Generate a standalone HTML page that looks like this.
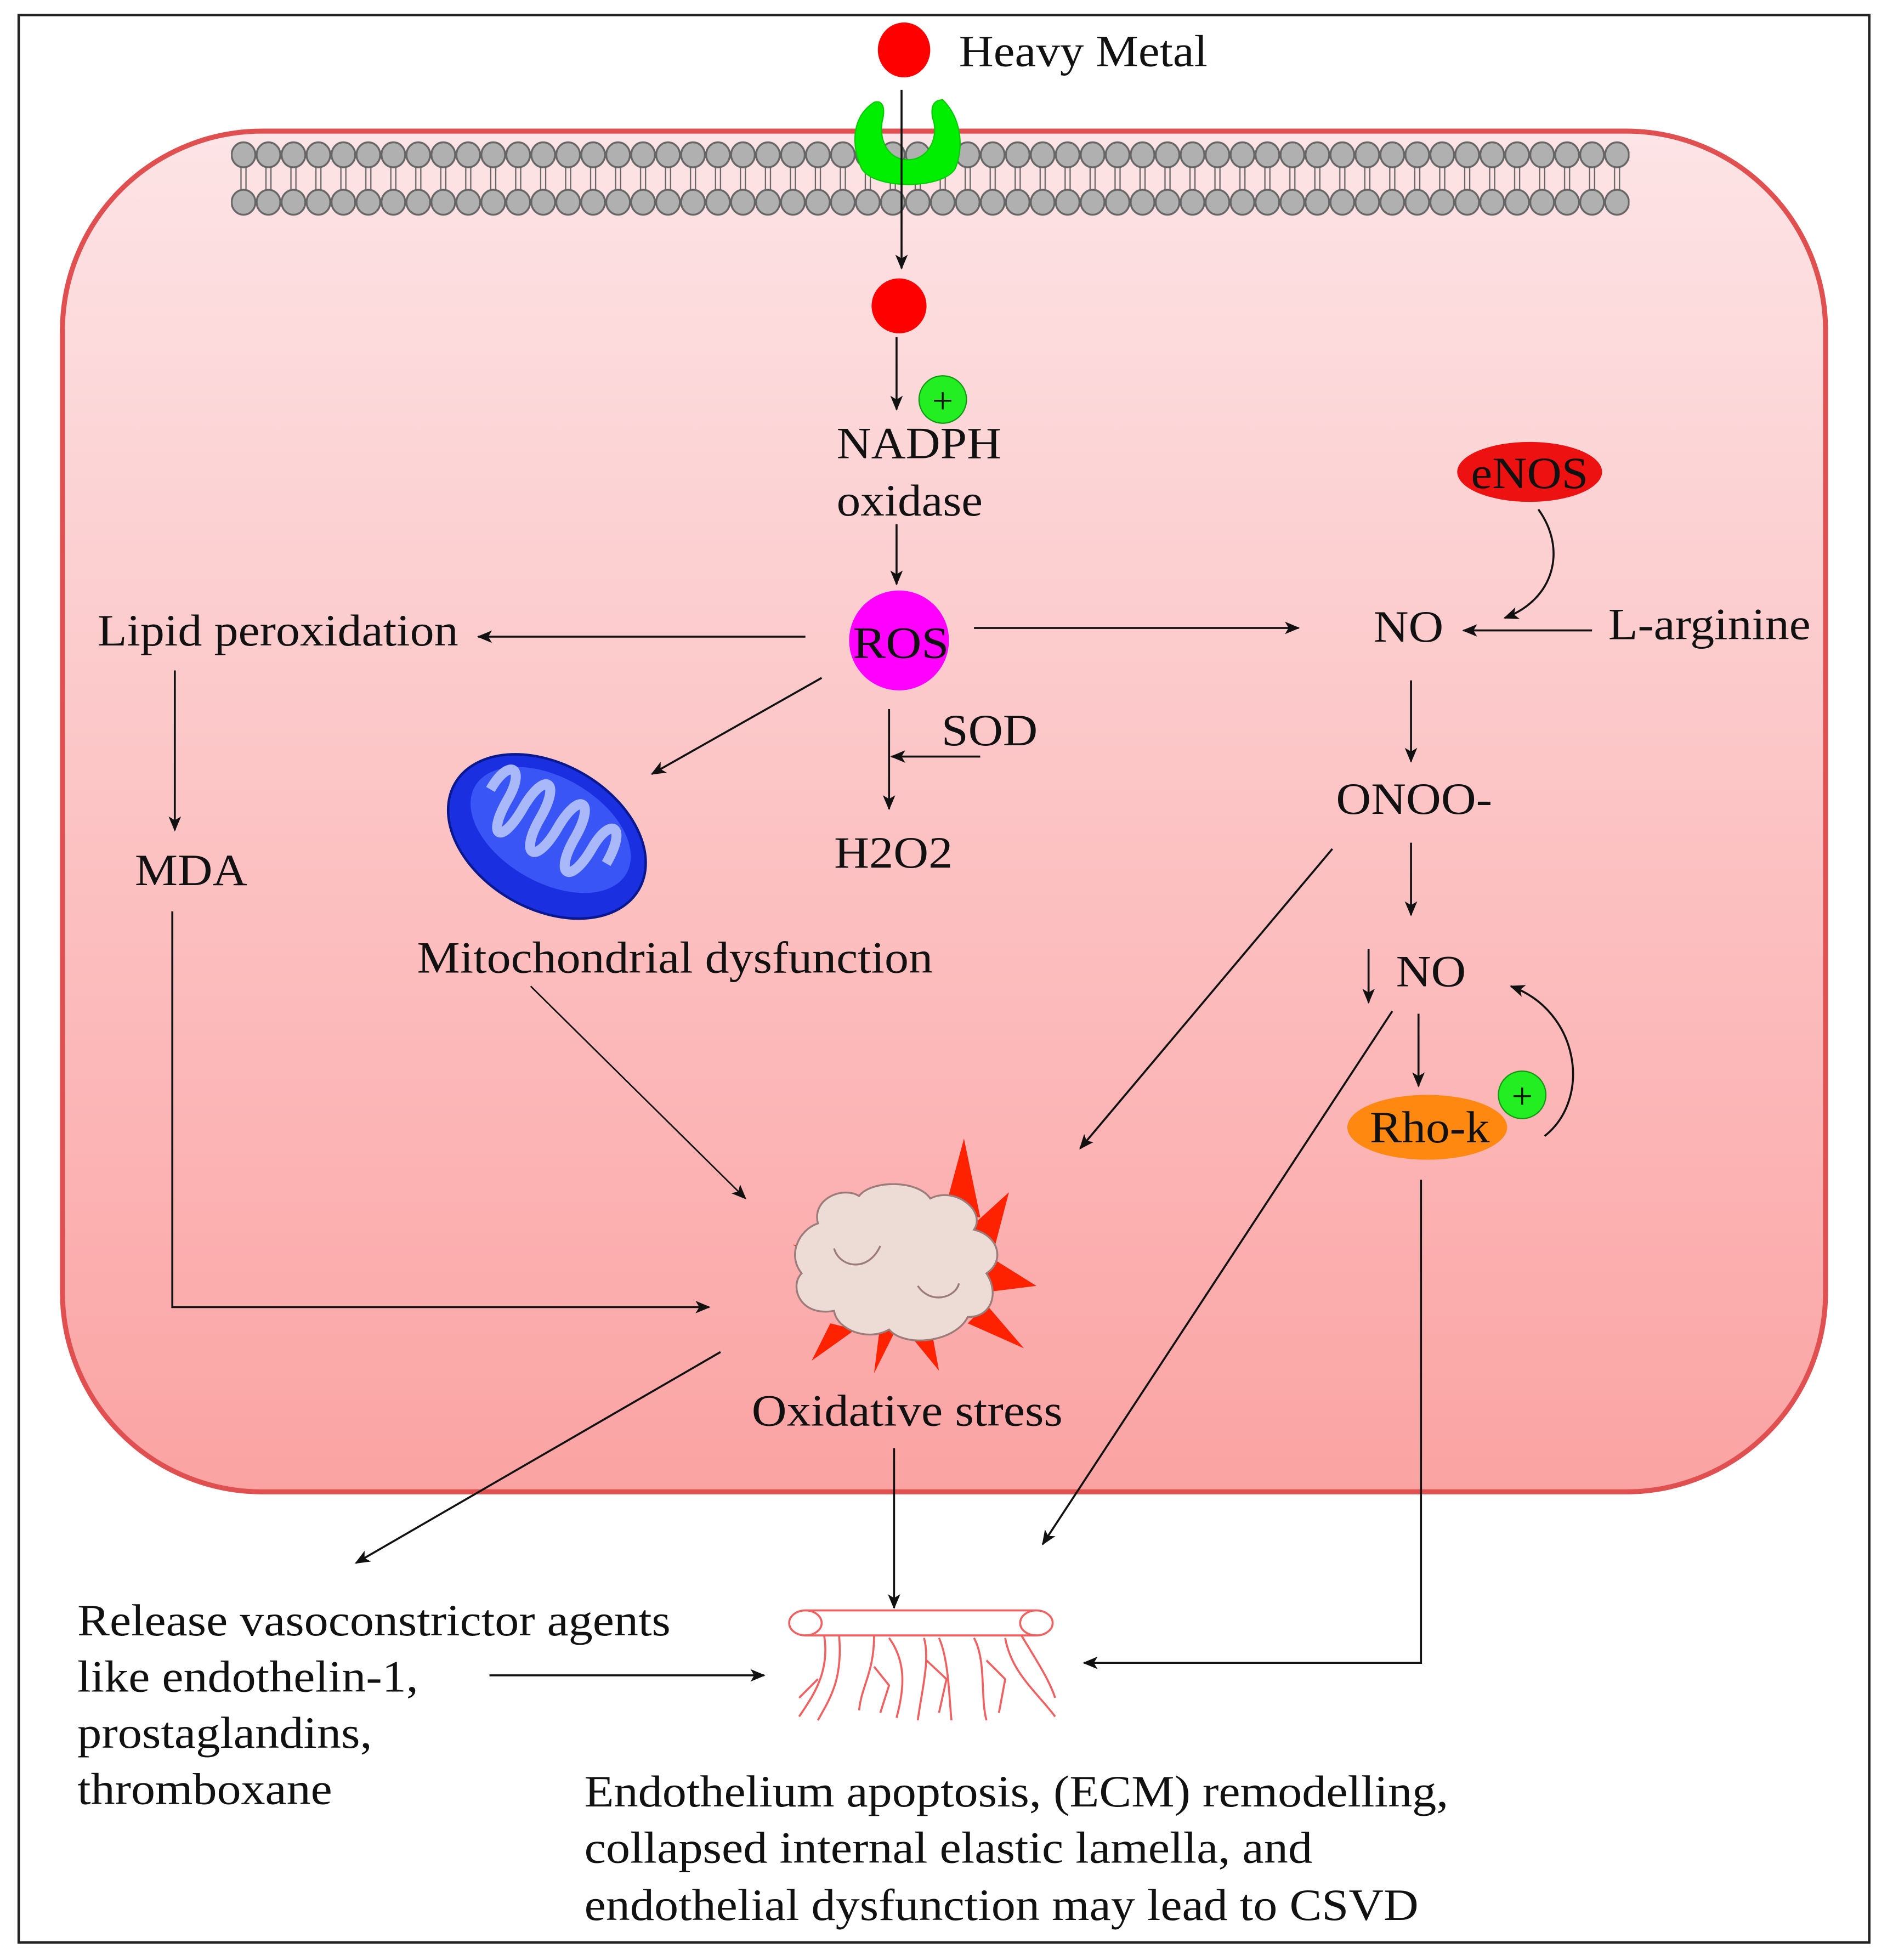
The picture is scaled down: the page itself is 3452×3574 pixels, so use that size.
<!DOCTYPE html>
<html><head><meta charset="utf-8"><style>
html,body{margin:0;padding:0;background:#fff}
svg{display:block}
text{font-family:"Liberation Serif","DejaVu Serif",serif;font-size:36px;fill:#111}
</style></head><body>
<svg width="3452" height="3574" viewBox="0 0 1516 1570" preserveAspectRatio="none" xmlns="http://www.w3.org/2000/svg" font-family="Liberation Serif, serif">
<defs>
<linearGradient id="cell" x1="0" y1="0" x2="0" y2="1">
<stop offset="0" stop-color="#fde4e6"/><stop offset="1" stop-color="#fba3a3"/>
</linearGradient>
<marker id="ar" viewBox="0 0 12 10" refX="11" refY="5" markerWidth="12" markerHeight="10" markerUnits="userSpaceOnUse" orient="auto">
<path d="M0,0 L12,5 L0,10 L3,5 Z" fill="#111"/>
</marker>
<pattern id="mem" x="185" y="112" width="20" height="62" patternUnits="userSpaceOnUse">
<line x1="8" y1="22" x2="8" y2="42" stroke="#666" stroke-width="1"/>
<line x1="12" y1="22" x2="12" y2="42" stroke="#666" stroke-width="1"/>
<ellipse cx="10" cy="12" rx="9.5" ry="10" fill="#b0b0b0" stroke="#666" stroke-width="1.5"/>
<ellipse cx="10" cy="50" rx="9.5" ry="10" fill="#b0b0b0" stroke="#666" stroke-width="1.5"/>
</pattern>
</defs>
<rect x="0" y="0" width="1516" height="1570" fill="#fff"/>
<rect x="15" y="12" width="1482" height="1544" fill="none" stroke="#222" stroke-width="2"/>
<rect x="50" y="105" width="1412" height="1090" rx="160" ry="160" fill="url(#cell)" stroke="#e05050" stroke-width="4"/>
<rect x="185" y="112" width="1120" height="62" fill="url(#mem)"/>
<path d="M700,82 C680,95 683,120 690,135 C700,152 755,152 765,135 C772,118 770,95 755,80 C748,80 745,85 747,95 C752,108 745,128 727,128 C710,128 703,110 707,95 C709,85 706,80 700,82 Z" fill="#00ee00" stroke="#00cc00" stroke-width="1"/>
<ellipse cx="724" cy="40" rx="21" ry="22" fill="#ff0000"/>
<text x="768" y="53" textLength="199" lengthAdjust="spacingAndGlyphs">Heavy Metal</text>
<g stroke="#111" stroke-width="1.6" fill="none">
<line x1="722" y1="72" x2="722" y2="215" marker-end="url(#ar)"/>
<line x1="718" y1="270" x2="718" y2="328" marker-end="url(#ar)"/>
<line x1="718" y1="420" x2="718" y2="468" marker-end="url(#ar)"/>
<line x1="645" y1="510" x2="383" y2="510" marker-end="url(#ar)"/>
<line x1="780" y1="503" x2="1040" y2="503" marker-end="url(#ar)"/>
<path d="M1232,408 C1255,440 1245,480 1205,495" marker-end="url(#ar)"/>
<line x1="1275" y1="505" x2="1172" y2="505" marker-end="url(#ar)"/>
<line x1="1130" y1="545" x2="1130" y2="610" marker-end="url(#ar)"/>
<line x1="1130" y1="675" x2="1130" y2="733" marker-end="url(#ar)"/>
<line x1="1096" y1="760" x2="1096" y2="803" marker-end="url(#ar)"/>
<line x1="1136" y1="812" x2="1136" y2="870" marker-end="url(#ar)"/>
<path d="M1237,910 C1275,880 1265,810 1210,790" marker-end="url(#ar)"/>
<polyline points="1138,945 1138,1332 868,1332" marker-end="url(#ar)"/>
<line x1="1115" y1="810" x2="835" y2="1237" marker-end="url(#ar)"/>
<line x1="1067" y1="680" x2="865" y2="920" marker-end="url(#ar)"/>
<line x1="658" y1="543" x2="522" y2="620" marker-end="url(#ar)"/>
<line x1="425" y1="790" x2="597" y2="960" marker-end="url(#ar)" stroke-width="1.2"/>
<line x1="712" y1="568" x2="712" y2="648" marker-end="url(#ar)"/>
<line x1="785" y1="606" x2="714" y2="606" marker-end="url(#ar)"/>
<line x1="140" y1="537" x2="140" y2="665" marker-end="url(#ar)"/>
<polyline points="138,730 138,1047 568,1047" marker-end="url(#ar)"/>
<line x1="577" y1="1083" x2="285" y2="1252" marker-end="url(#ar)"/>
<line x1="716" y1="1160" x2="716" y2="1288" marker-end="url(#ar)"/>
<line x1="392" y1="1342" x2="612" y2="1342" marker-end="url(#ar)"/>
</g>
<ellipse cx="720" cy="245" rx="22" ry="22" fill="#ff0000"/>
<circle cx="755" cy="320" r="19" fill="#22ee22" stroke="#119911" stroke-width="1"/>
<text x="755" y="331" text-anchor="middle" style="font-size:30px">+</text>
<text x="670" y="367" textLength="132" lengthAdjust="spacingAndGlyphs">NADPH</text>
<text x="670" y="413" textLength="117" lengthAdjust="spacingAndGlyphs">oxidase</text>
<circle cx="720" cy="513" r="40" fill="#ff00ff"/>
<text x="683" y="527" textLength="77" lengthAdjust="spacingAndGlyphs">ROS</text>
<text x="78" y="517" textLength="289" lengthAdjust="spacingAndGlyphs">Lipid peroxidation</text>
<text x="1100" y="514" textLength="56" lengthAdjust="spacingAndGlyphs">NO</text>
<ellipse cx="1225" cy="378" rx="58" ry="24" fill="#ee1111"/>
<text x="1178" y="391" textLength="94" lengthAdjust="spacingAndGlyphs">eNOS</text>
<text x="1288" y="512" textLength="162" lengthAdjust="spacingAndGlyphs">L-arginine</text>
<text x="1070" y="652" textLength="125" lengthAdjust="spacingAndGlyphs">ONOO-</text>
<text x="1118" y="790" textLength="56" lengthAdjust="spacingAndGlyphs">NO</text>
<ellipse cx="1143" cy="903" rx="64" ry="26" fill="#ff8811"/>
<text x="1097" y="915" textLength="96" lengthAdjust="spacingAndGlyphs">Rho-k</text>
<circle cx="1219" cy="877" r="19" fill="#22ee22" stroke="#119911" stroke-width="1"/>
<text x="1219" y="888" text-anchor="middle" style="font-size:30px">+</text>
<g transform="translate(438,670) rotate(30)">
<ellipse cx="0" cy="0" rx="85" ry="58" fill="#1a30e0" stroke="#0a1890" stroke-width="2"/>
<ellipse cx="0" cy="-6" rx="70" ry="42" fill="#3a55f5"/>
<path d="M-58,-10 C-58,-40 -42,-40 -42,-10 C-42,25 -28,25 -28,-10 C-28,-45 -12,-45 -12,-10 C-12,25 4,25 4,-10 C4,-45 20,-45 20,-10 C20,25 36,25 36,-10 C36,-40 52,-40 52,-5" fill="none" stroke="#a8b8f8" stroke-width="8"/>
</g>
<text x="334" y="779" textLength="413" lengthAdjust="spacingAndGlyphs">Mitochondrial dysfunction</text>
<text x="754" y="597" textLength="77" lengthAdjust="spacingAndGlyphs">SOD</text>
<text x="668" y="695" textLength="95" lengthAdjust="spacingAndGlyphs">H2O2</text>
<text x="108" y="709" textLength="90" lengthAdjust="spacingAndGlyphs">MDA</text>
<g fill="#ff2200">
<polygon points="755,975 772,912 785,975"/>
<polygon points="775,985 808,955 795,1005"/>
<polygon points="790,1005 830,1030 790,1035"/>
<polygon points="790,1045 820,1080 775,1060"/>
<polygon points="745,1060 752,1098 725,1065"/>
<polygon points="720,1060 700,1100 705,1060"/>
<polygon points="665,1060 650,1090 685,1065"/>
<polygon points="660,1000 635,997 660,1012"/>
</g>
<path d="M655,980 C650,960 675,950 688,958 C698,945 735,945 745,960 C765,950 790,970 780,985 C800,990 805,1010 790,1020 C800,1035 795,1055 775,1055 C765,1075 725,1080 712,1065 C695,1075 670,1065 668,1050 C640,1055 632,1030 642,1020 C630,1005 640,985 655,980 Z" fill="#eddcd6" stroke="#9c7c78" stroke-width="1.5"/>
<path d="M668,1000 C672,1015 695,1020 705,998 M735,1030 C745,1045 765,1040 768,1028" fill="none" stroke="#9c7c78" stroke-width="1.5"/>
<text x="602" y="1142" textLength="249" lengthAdjust="spacingAndGlyphs">Oxidative stress</text>
<g stroke="#f06060" stroke-width="1.6" fill="none">
<ellipse cx="645" cy="1300" rx="13" ry="10"/>
<ellipse cx="830" cy="1300" rx="13" ry="10"/>
<path d="M645,1290 L830,1290 M645,1310 L830,1310"/>
<path d="M660,1310 C665,1340 650,1360 640,1375 M672,1310 C675,1345 665,1360 655,1378 M655,1345 L640,1360 M700,1310 C700,1340 690,1350 688,1370 M700,1335 L712,1350 L705,1372 M712,1312 C725,1330 725,1350 718,1376 M740,1312 C745,1330 738,1355 735,1378 M742,1330 L758,1345 L752,1372 M752,1312 C760,1330 760,1360 762,1378 M780,1312 C790,1330 785,1360 790,1378 M790,1330 L805,1345 L800,1372 M805,1312 C810,1340 830,1355 845,1375 M818,1310 C830,1330 840,1345 845,1360"/>
</g>
<text x="62" y="1310" textLength="475" lengthAdjust="spacingAndGlyphs">Release vasoconstrictor agents</text>
<text x="62" y="1355" textLength="273" lengthAdjust="spacingAndGlyphs">like endothelin-1,</text>
<text x="62" y="1400" textLength="236" lengthAdjust="spacingAndGlyphs">prostaglandins,</text>
<text x="62" y="1445" textLength="204" lengthAdjust="spacingAndGlyphs">thromboxane</text>
<text x="468" y="1447" textLength="692" lengthAdjust="spacingAndGlyphs">Endothelium apoptosis, (ECM) remodelling,</text>
<text x="468" y="1492" textLength="583" lengthAdjust="spacingAndGlyphs">collapsed internal elastic lamella, and</text>
<text x="468" y="1538" textLength="668" lengthAdjust="spacingAndGlyphs">endothelial dysfunction may lead to CSVD</text>
</svg>
</body></html>
